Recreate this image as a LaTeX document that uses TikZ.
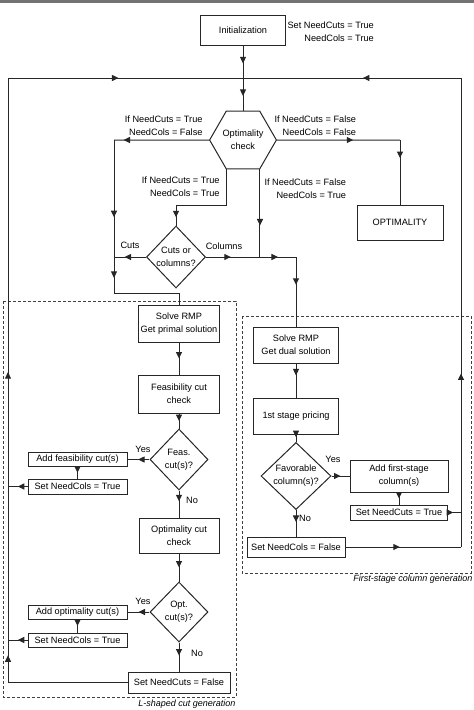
\documentclass[tikz,border=0pt]{standalone}
\usepackage{fontspec}
\setmainfont{Liberation Sans}
\usetikzlibrary{shapes.geometric}
\usetikzlibrary{arrows.meta}
\usetikzlibrary{decorations.markings}
\tikzset{% 
    blk/.style={draw, rectangle, align=center, inner sep=1pt},
    dec/.style={draw, diamond, align=center, inner sep=0pt},
    hexa/.style={draw, regular polygon, regular polygon sides=6, align=center, inner sep=0pt},
    lbl/.style={align=right, inner sep=0pt},
    tag/.style={inner sep=0pt},
    grp/.style={draw=black!75, line width=0.9pt, dash pattern=on 3pt off 2pt},
    grplbl/.style={inner sep=0pt, font=\fontsize{9}{11}\selectfont\itshape},
    arr/.style={postaction={decorate, decoration={markings,
        mark=at position #1 with {\arrow{Triangle[length=6.5pt,width=6pt]}}}}},
    arr/.default=0.5
}

\begin{document}
\begin{tikzpicture}[x=1pt, y=-1pt, line width=1pt, draw=black!85,
        font=\fontsize{9.2}{13}\selectfont]
        \useasboundingbox (0,0) rectangle (474,710);
        \fill[black!55] (0,0) rectangle (474,2.5);

        % top
        \node[blk, minimum width=85pt, minimum height=30pt] (init) at (243,30) {Initialization};
        \node[lbl, anchor=west] (initlbl) at (287,32) {Set NeedCuts = True\\NeedCols = True};
        \node[hexa, minimum size=65pt] (hex) at (243,140) {Optimality\\check};
        \node[blk, minimum width=86pt, minimum height=35pt] (optim) at (400,222.5) {OPTIMALITY};
        \node[dec, minimum width=59pt, minimum height=62pt] (cc) at (176,257) {Cuts or\\columns?};

        \node[lbl, anchor=east] (hlbl) at (203,126) {If NeedCuts = True\\NeedCols = False};
        \node[lbl, anchor=west] (hrbl) at (274,126) {If NeedCuts = False\\NeedCols = False};
        \node[lbl, anchor=east] (blbl) at (220,187) {If NeedCuts = True\\NeedCols = True};
        \node[lbl, anchor=west] (brbl) at (264,189) {If NeedCuts = False\\NeedCols = True};
        \node[tag] (cuts) at (130,245) {Cuts};
        \node[tag] (cols) at (224,246) {Columns};

        \coordinate (j0) at (243,78);
        \coordinate (tl) at (8,78);
        \coordinate (tr) at (461,78);
        \coordinate (cL) at (114,140);
        \coordinate (cR) at (400,140);
        \coordinate (kh) at (176,205);
        \coordinate (jc) at (114,257);
        \coordinate (jb) at (114,293);
        \coordinate (jp) at (179,293);
        \coordinate (jr) at (hex.300 |- cc.east);
        \coordinate (jt) at (296,257);

        % L-shaped cut generation
        \draw[grp] (3,301) rectangle (236,697);
        \node[grplbl, anchor=east] (lgen) at (236,704) {L-shaped cut generation};
        \node[blk, minimum width=81pt, minimum height=37pt] (rmpP) at (179,323.5) {Solve RMP\\Get primal solution};
        \node[blk, minimum width=81pt, minimum height=38pt] (feas) at (179,394) {Feasibility cut\\check};
        \node[dec, minimum width=58pt, minimum height=61pt] (fdia) at (179,459.5) {Feas.\\cut(s)?};
        \node[blk, minimum width=99pt, minimum height=14pt] (addF) at (77.5,459.5) {Add feasibility cut(s)};
        \node[blk, minimum width=99pt, minimum height=15pt] (setF) at (77.5,486.5) {Set NeedCols = True};
        \node[blk, minimum width=80pt, minimum height=35pt] (opt) at (179,535.5) {Optimality cut\\check};
        \node[dec, minimum width=58pt, minimum height=60pt] (odia) at (179,612) {Opt.\\cut(s)?};
        \node[blk, minimum width=99pt, minimum height=14pt] (addO) at (77.5,612) {Add optimality cut(s)};
        \node[blk, minimum width=99pt, minimum height=14pt] (setO) at (77.5,640) {Set NeedCols = True};
        \node[blk, minimum width=102pt, minimum height=21pt] (setC) at (179,682.5) {Set NeedCuts = False};
        \node[tag] (fyes) at (143,449) {Yes};
        \node[tag] (fno) at (192,500) {No};
        \node[tag] (oyes) at (143,601) {Yes};
        \node[tag] (ono) at (197,653) {No};
        \coordinate (bl) at (8,682.5);

        % First-stage column generation
        \draw[grp] (242,316) rectangle (471,573);
        \node[grplbl, anchor=east] (cgen) at (473,579) {First-stage column generation};
        \node[blk, minimum width=85pt, minimum height=36pt] (rmpD) at (296,345) {Solve RMP\\Get dual solution};
        \node[blk, minimum width=85pt, minimum height=36pt] (price) at (296,416) {1st stage pricing};
        \node[dec, minimum width=70pt, minimum height=58pt] (pdia) at (296,476) {Favorable\\column(s)?};
        \node[blk, minimum width=98pt, minimum height=32pt] (addC) at (399,476) {Add first-stage\\column(s)};
        \node[blk, minimum width=97pt, minimum height=15pt] (setN) at (399,512.5) {Set NeedCuts = True};
        \node[blk, minimum width=98pt, minimum height=20pt] (setK) at (296,547) {Set NeedCols = False};
        \node[tag] (pyes) at (333,459) {Yes};
        \node[tag] (pno) at (305,518) {No};
        \coordinate (br) at (461,547);

        % main loop
        \draw[arr=0.55] (init) -- (j0);
        \draw[arr=0.55] (j0) -- (hex);
        \draw[arr=0.9] (hex.west) -- (cL);
        \draw[arr=0.66] (cL) -- (jc);
        \draw[arr=0.58] (jc) -- (jb);
        \draw (jb) -- (jp) -- (rmpP);
        \draw[arr=0.62] (hex.east) -- (cR);
        \draw[arr=0.28] (cR) -- (optim);
        \draw (hex.240) |- (kh);
        \draw[arr=0.6] (kh) -- (cc);
        \draw[arr=0.64] (hex.300) -- (jr);
        \draw[arr=0.67] (cc.west) -- (jc);
        \draw[arr=0.46] (cc.east) -- (jr);
        \draw[arr=0.5] (jr) -- (jt);
        \draw[arr=0.4] (jt) -- (rmpD);

        % cuts
        \draw[arr] (rmpP) -- (feas);
        \draw[arr] (feas) -- (fdia);
        \draw[arr=0.52] (fdia) -- (addF);
        \draw[arr] (addF) -- (setF);
        \draw[arr] (setF.west) -- (setF.west -| tl);
        \draw[arr=0.4] (fdia) -- (opt);
        \draw[arr] (opt) -- (odia);
        \draw[arr] (odia) -- (addO);
        \draw[arr] (addO) -- (setO);
        \draw[arr] (setO.west) -- (setO.west -| tl);
        \draw[arr=0.45] (odia) -- (setC);
        \draw (setC) -- (bl);
        \draw[arr=0.64] (bl) -- (setO.west -| tl);
        \draw (setO.west -| tl) -- (setF.west -| tl);
        \draw[arr=0.28] (setF.west -| tl) -- (tl);
        \draw[arr=0.47] (tl) -- (j0);

        % columns
        \draw[arr=0.35] (rmpD) -- (price);
        \draw[arr=0.35] (price) -- (pdia);
        \draw[arr] (pdia) -- (addC);
        \draw[arr] (addC) -- (setN);
        \draw[arr=0.4] (setN.east) -- (setN.east -| tr);
        \draw[arr=0.45] (pdia) -- (setK);
        \draw[arr=0.47] (setK) -- (br);
        \draw (br) -- (setN.east -| tr);
        \draw[arr=0.32] (setN.east -| tr) -- (tr);
        \draw[arr=0.45] (tr) -- (j0);
    \end{tikzpicture}
\end{document}
